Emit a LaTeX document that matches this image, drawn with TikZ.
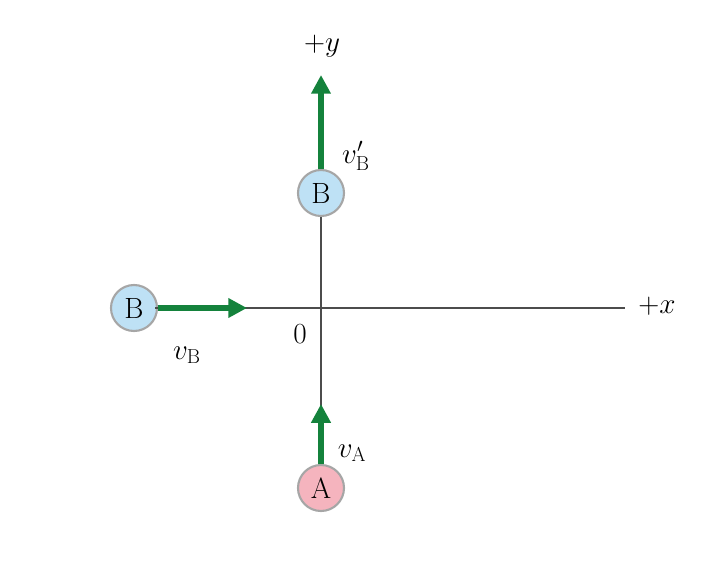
\documentclass[tikz,border=0pt]{standalone}
\usetikzlibrary{arrows.meta}
\definecolor{arrowgreen}{RGB}{20,130,60}
\definecolor{ballblue}{RGB}{190,225,245}
\definecolor{ballred}{RGB}{245,180,190}
\tikzset
{
    ball/.style  = {circle, draw=gray!70, line width=1.8pt, minimum size=1.38cm, inner sep=0pt, font=\fontsize{25}{27}\selectfont},
    vel/.style   = {draw=arrowgreen, line width=4.5pt, -{Triangle[length=16pt,width=16pt]}},
    axis/.style  = {draw=black!70, line width=1.6pt},
    lbl/.style   = {font=\fontsize{27}{29}\selectfont}
}
\begin{document}
\begin{tikzpicture}[x=0.03cm, y=-0.03cm]
\useasboundingbox (0,0) rectangle (706,564);
\coordinate (xend) at (625,308);
\coordinate (xstart) at (155,308);
\node (bt) [ball, fill=ballblue] at (321,193) {B};
\node (bl) [ball, fill=ballblue] at (134,308) {B};
\node (a)  [ball, fill=ballred]  at (321,488) {A};

\draw[axis] (xstart) -- (xend);
\draw[axis] (bt) -- (a);

\coordinate (vbt) at (321,75);
\coordinate (vbl) at (247,308);
\coordinate (va)  at (321,404);
\draw[vel] (bt) -- (vbt);
\draw[vel] (bl) -- (vbl);
\draw[vel] (a) -- (va);

\node (xl)  [lbl] at (657,306) {$+x$};
\node (yl)  [lbl] at (322,46)  {$+y$};
\node (zl)  [lbl] at (300,334) {$0$};
\node (vbtl)[lbl] at (356,156) {$v'_{\mathrm{B}}$};
\node (vbll)[lbl] at (187,355) {$v_{\mathrm{B}}$};
\node (val) [lbl] at (352,453) {$v_{\mathrm{A}}$};
\end{tikzpicture}
\end{document}
